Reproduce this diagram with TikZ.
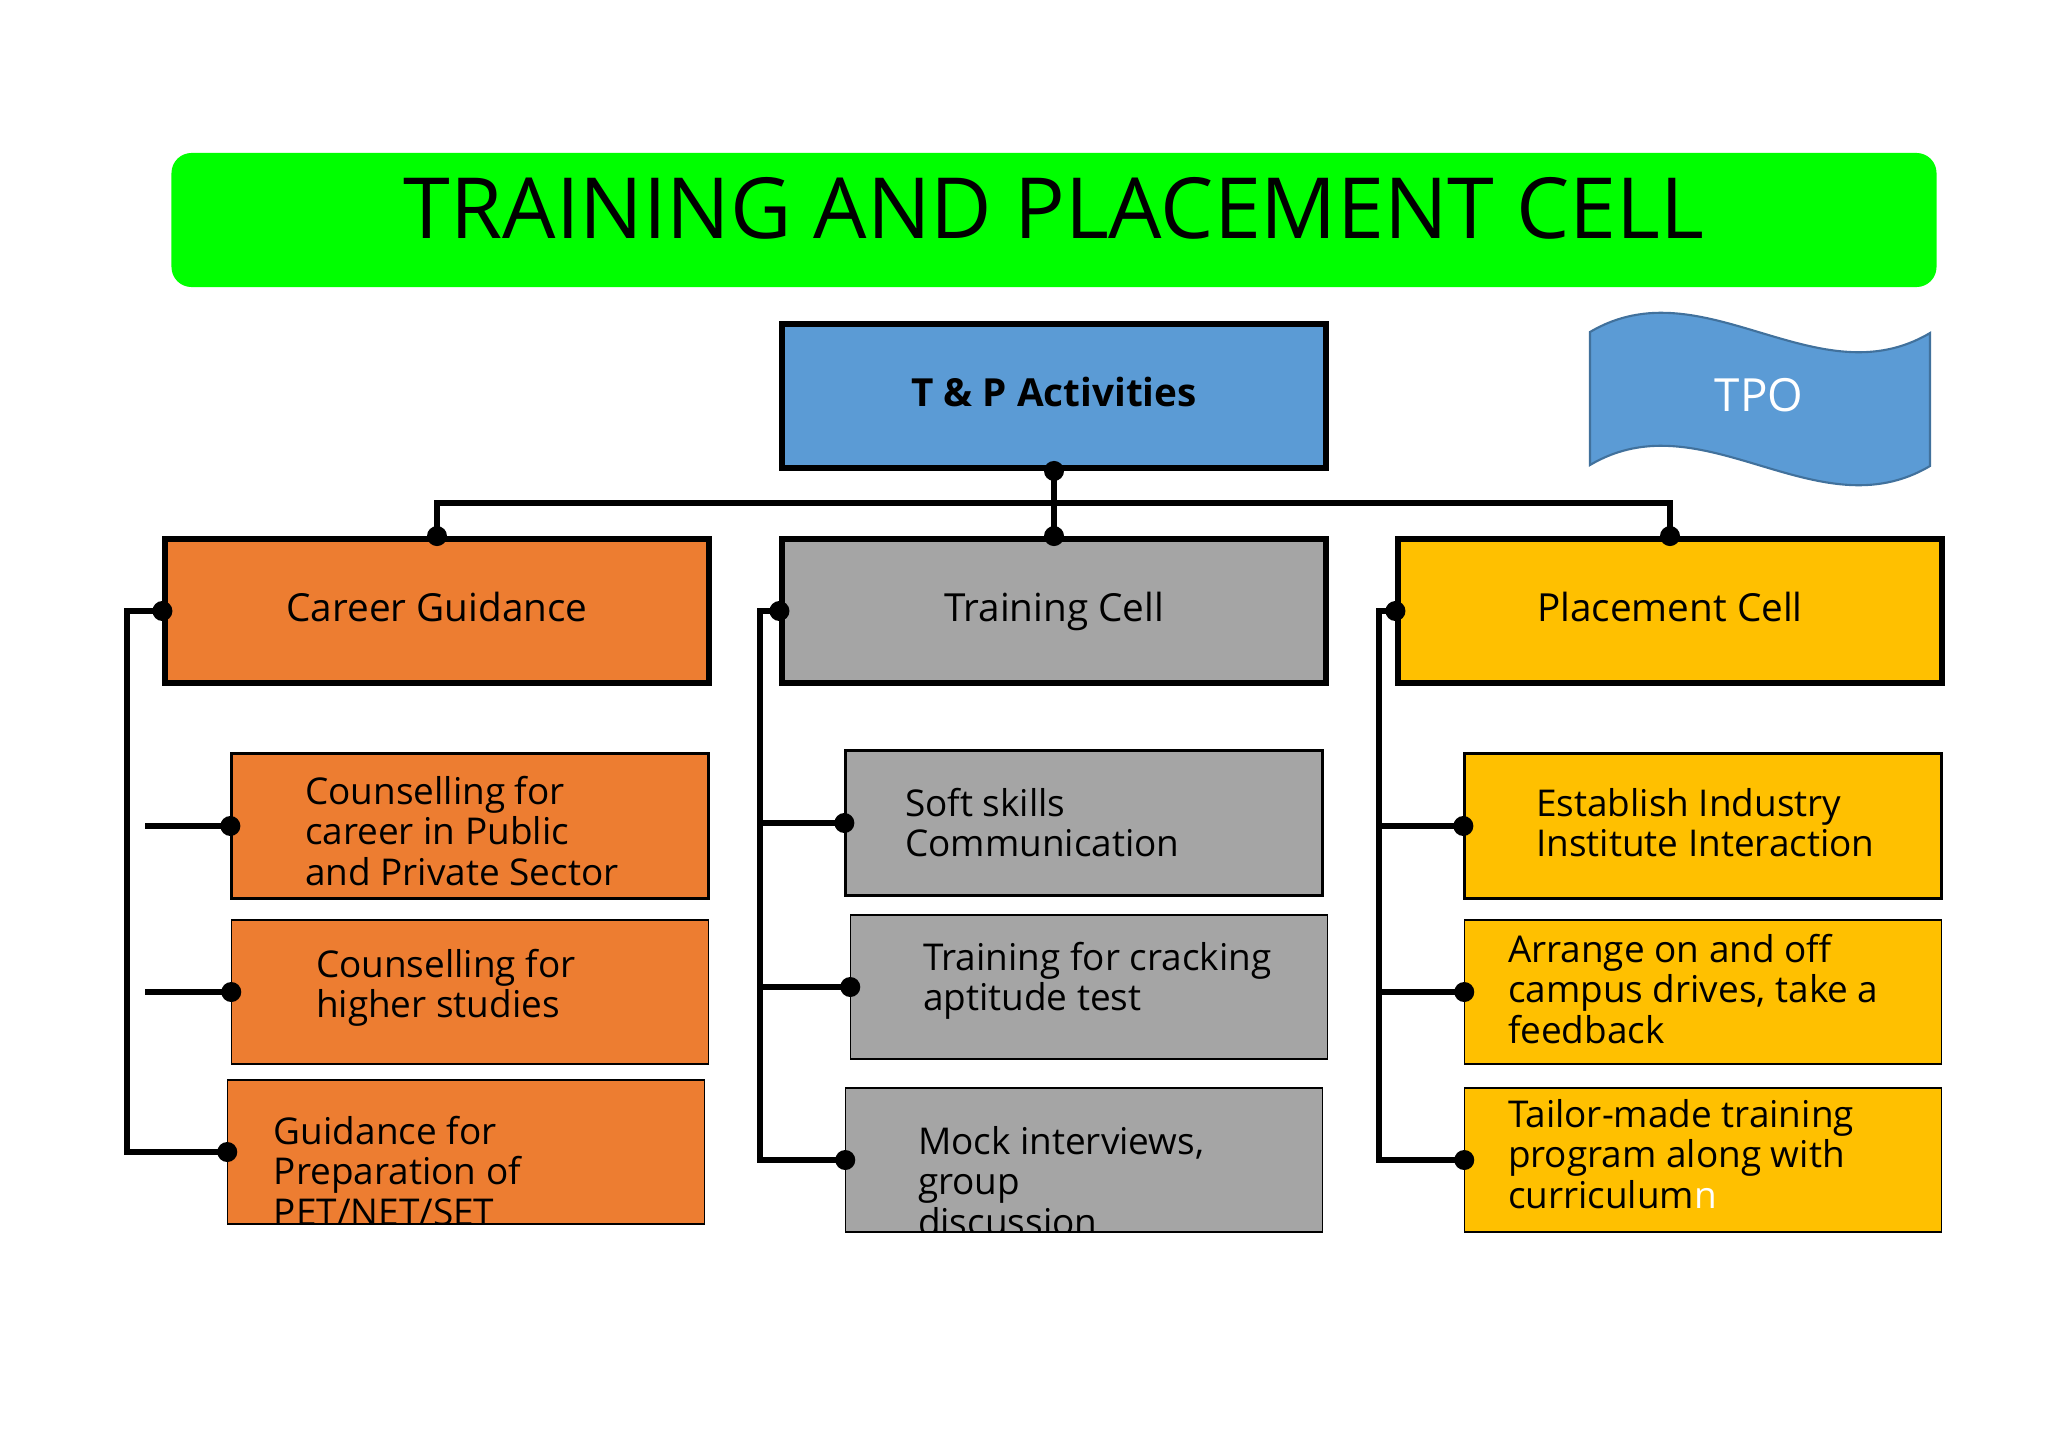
\documentclass[tikz,border=0pt]{standalone}
\usepackage{fontspec}
\setmainfont{Open Sans}
\usetikzlibrary{positioning}
\definecolor{TitleGreen}{HTML}{00FF00}
\definecolor{BoxBlue}{HTML}{5B9BD5}
\definecolor{WaveEdge}{HTML}{41719C}
\definecolor{BoxOrange}{HTML}{ED7D31}
\definecolor{BoxGray}{HTML}{A5A5A5}
\definecolor{BoxGold}{HTML}{FFC000}

\begin{document}
\begin{tikzpicture}[x=0.01cm,y=-0.01cm,
  head/.style={draw,line width=0.058cm,minimum width=5.43cm,minimum height=1.44cm,text height=0.28cm,text depth=0.08cm,font=\fontsize{11}{13}\selectfont},
  item/.style={draw,line width=0.012cm,minimum width=4.76cm,minimum height=1.44cm},
  firstitem/.style={item,line width=0.03cm},
  itemtext/.style={align=left,inner sep=0pt,font=\fontsize{10.5}{11.5}\selectfont},
  link/.style={line width=0.06cm}]
  \useasboundingbox (0,0) rectangle (2048,1448);
  \node[fill=TitleGreen,rounded corners=0.2cm,minimum width=17.64cm,minimum height=1.34cm,text depth=0.24cm,font=\fontsize{24}{28}\selectfont] (title) at (1054,220) {TRAINING AND PLACEMENT CELL};
  \node[head,fill=BoxBlue,font=\fontsize{11}{13}\selectfont\bfseries] (tp) at (1054,396) {T \& P Activities};
  % wave flag
  \draw[WaveEdge,fill=BoxBlue,line width=0.6pt] (1590,332) .. controls (1703,265) and (1817,400) .. (1930,333) -- (1930,466) .. controls (1817,533) and (1703,398) .. (1590,465) -- cycle;
  \node[text=white,font=\fontsize{13}{15}\selectfont] (tpo) at (1759,395) {TPO};
  \node[head,fill=BoxOrange] (cg) at (437,611) {Career Guidance};
  \node[head,fill=BoxGray] (tc) at (1054,611) {Training Cell};
  \node[head,fill=BoxGold] (pc) at (1670,611) {Placement Cell};

  \node[firstitem,fill=BoxOrange] (cg1) at (470,826) {};
  \node[item,fill=BoxOrange] (cg2) at (470,992) {};
  \node[item,fill=BoxOrange] (cg3) at (466,1152) {};
  \node[firstitem,fill=BoxGray] (tc1) at (1084,823) {};
  \node[item,fill=BoxGray] (tc2) at (1089,987) {};
  \node[item,fill=BoxGray] (tc3) at (1084,1160) {};
  \node[firstitem,fill=BoxGold] (pc1) at (1703,826) {};
  \node[item,fill=BoxGold] (pc2) at (1703,992) {};
  \node[item,fill=BoxGold] (pc3) at (1703,1160) {};

  \node[itemtext,below right=0.23cm and 0.74cm of cg1.north west] (cg1t) {Counselling for\\career in Public\\and Private Sector};
  \node[itemtext,below right=0.29cm and 0.84cm of cg2.north west] (cg2t) {Counselling for\\higher studies};
  \begin{scope}
    \clip (cg3.south west) rectangle (cg3.north east);
    \node[itemtext,below right=0.36cm and 0.46cm of cg3.north west] (cg3t) {Guidance for\\Preparation of\\PET/NET/SET};
  \end{scope}
  \node[itemtext,below right=0.38cm and 0.60cm of tc1.north west] (tc1t) {Soft skills\\Communication};
  \node[itemtext,below right=0.27cm and 0.72cm of tc2.north west] (tc2t) {Training for cracking\\aptitude test};
  \begin{scope}
    \clip (tc3.south west) rectangle (tc3.north east);
    \node[itemtext,below right=0.38cm and 0.72cm of tc3.north west] (tc3t) {Mock interviews,\\group\\discussion};
  \end{scope}
  \node[itemtext,below right=0.35cm and 0.72cm of pc1.north west] (pc1t) {Establish Industry\\Institute Interaction};
  \node[itemtext,below right=0.14cm and 0.43cm of pc2.north west] (pc2t) {Arrange on and off\\campus drives, take a\\feedback};
  \node[itemtext,below right=0.11cm and 0.43cm of pc3.north west] (pc3t) {Tailor-made training\\program along with\\curriculum\textcolor{white}{n}};

  % connectors
  \coordinate (bus) at (1054,503);
  \coordinate (cbus) at (127,0); \coordinate (cstub) at (145,0);
  \coordinate (tbus) at (760,0); \coordinate (pbus) at (1379,0);
  \draw[link] (tp.south) -- (tc.north);
  \draw[link] (cg.north) -- (cg.north |- bus) -- (pc.north |- bus) -- (pc.north);
  \draw[link] (cg.west) -- (cg.west -| cbus) -- (cg3.west -| cbus) -- (cg3.west);
  \draw[link] (cstub |- cg1.west) -- (cg1.west);
  \draw[link] (cstub |- cg2.west) -- (cg2.west);
  \draw[link] (tc.west) -- (tc.west -| tbus) -- (tc3.west -| tbus) -- (tc3.west);
  \draw[link] (tc1.west -| tbus) -- (tc1.west);
  \draw[link] (tc2.west -| tbus) -- (tc2.west);
  \draw[link] (pc.west) -- (pc.west -| pbus) -- (pc3.west -| pbus) -- (pc3.west);
  \draw[link] (pc1.west -| pbus) -- (pc1.west);
  \draw[link] (pc2.west -| pbus) -- (pc2.west);
  \fill (tp.south) circle (0.1cm) (cg.north) circle (0.1cm) (tc.north) circle (0.1cm) (pc.north) circle (0.1cm);
  \fill (cg.west) circle (0.1cm) (cg1.west) circle (0.1cm) (cg2.west) circle (0.1cm) (cg3.west) circle (0.1cm);
  \fill (tc.west) circle (0.1cm) (tc1.west) circle (0.1cm) (tc2.west) circle (0.1cm) (tc3.west) circle (0.1cm);
  \fill (pc.west) circle (0.1cm) (pc1.west) circle (0.1cm) (pc2.west) circle (0.1cm) (pc3.west) circle (0.1cm);
\end{tikzpicture}
\end{document}
